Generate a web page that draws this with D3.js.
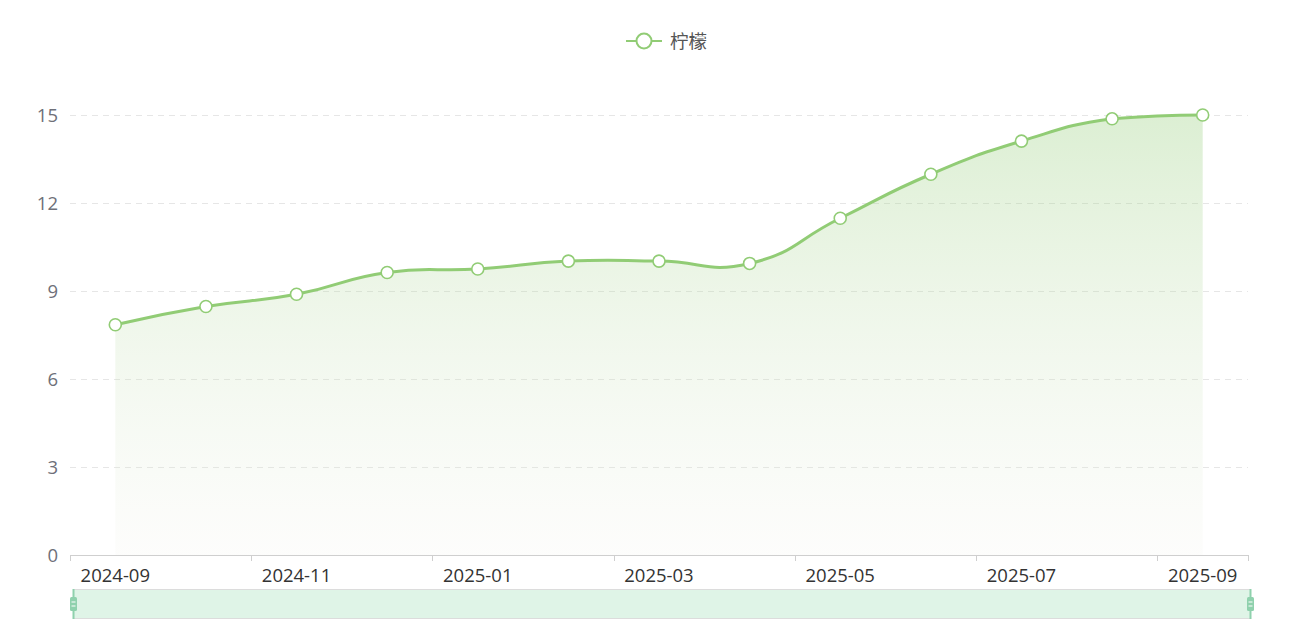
<!DOCTYPE html>
<html>
<head>
<meta charset="utf-8">
<script src="https://cdn.jsdelivr.net/npm/d3@7/dist/d3.min.js"></script>
<style>
html,body{margin:0;padding:0;background:#fff;}
svg{display:block;font-family:"Open Sans","Noto Sans CJK SC",sans-serif;}
</style>
</head>
<body>
<svg id="chart" width="1302" height="630"></svg>
<script>
const seriesName = "柠檬";
const categories = ["2024-09","2024-10","2024-11","2024-12","2025-01","2025-02","2025-03","2025-04","2025-05","2025-06","2025-07","2025-08","2025-09"];
const values = [7.85, 8.47, 8.89, 9.63, 9.75, 10.02, 10.02, 9.94, 11.48, 12.98, 14.11, 14.87, 15.0];
const yTicks = [0, 3, 6, 9, 12, 15];
const xLabelIdx = [0, 2, 4, 6, 8, 10, 12];

(function () {
const svg = d3.select("#chart");
const gLeft = 70, gRight = 1248, gTop = 115, gBottom = 555;
const green = "#91cc75";

const x = d3.scaleBand().domain(categories).range([gLeft, gRight]).paddingInner(0).paddingOuter(0);
const y = d3.scaleLinear().domain([0, 15]).range([gBottom, gTop]);

const defs = svg.append("defs");
const grad = defs.append("linearGradient").attr("id","areaGrad").attr("x1",0).attr("y1",0).attr("x2",0).attr("y2",1);
grad.append("stop").attr("offset","0%").attr("stop-color","rgb(145,204,117)").attr("stop-opacity",0.32);
grad.append("stop").attr("offset","100%").attr("stop-color","rgb(240,240,232)").attr("stop-opacity",0.15);

svg.append("g").selectAll("line").data(yTicks.filter(t => t > 0)).join("line")
  .attr("x1", gLeft).attr("x2", gRight)
  .attr("y1", d => Math.round(y(d)) + 0.5).attr("y2", d => Math.round(y(d)) + 0.5)
  .attr("stroke", "#e6e6e6").attr("stroke-width", 1).attr("stroke-dasharray", "6,5");

svg.append("g").selectAll("text").data(yTicks).join("text")
  .attr("x", 58).attr("y", d => y(d)).attr("dy", "0.36em")
  .attr("text-anchor", "end").attr("fill", "#6e7079").attr("font-size", 18.5)
  .text(d => d);

const pts = categories.map((c, i) => [x(c) + x.bandwidth() / 2, y(values[i])]);

// ECharts v4-style smooth bezier with bbox constraint
function smoothPath(points, smooth, p) {
  const n = points.length;
  const minX = d3.min(points, d => d[0]), maxX = d3.max(points, d => d[0]);
  const minY = d3.min(points, d => d[1]), maxY = d3.max(points, d => d[1]);
  const clampX = v => Math.max(minX, Math.min(maxX, v));
  const clampY = v => Math.max(minY, Math.min(maxY, v));
  const cps = [];
  for (let i = 0; i < n; i++) {
    const pt = points[i];
    if (i === 0 || i === n - 1) { cps.push([pt[0], pt[1]]); continue; }
    const pr = points[i - 1], nx = points[i + 1];
    const vx = (nx[0] - pr[0]) * smooth, vy = (nx[1] - pr[1]) * smooth;
    let d0 = Math.hypot(pt[0] - pr[0], pt[1] - pr[1]);
    let d1 = Math.hypot(pt[0] - nx[0], pt[1] - nx[1]);
    const s = d0 + d1;
    if (s !== 0) { d0 /= s; d1 /= s; }
    cps.push([clampX(pt[0] - vx * d0), clampY(pt[1] - vy * d0)]);
    cps.push([clampX(pt[0] + vx * d1), clampY(pt[1] + vy * d1)]);
  }
  p.moveTo(points[0][0], points[0][1]);
  for (let i = 0; i < n - 1; i++) {
    const c0 = cps[i * 2], c1 = cps[i * 2 + 1], q = points[i + 1];
    p.bezierCurveTo(c0[0], c0[1], c1[0], c1[1], q[0], q[1]);
  }
  return p;
}

const areaP = smoothPath(pts, 0.5, d3.path());
areaP.lineTo(pts[pts.length-1][0], y(0));
areaP.lineTo(pts[0][0], y(0));
areaP.closePath();
svg.append("path").attr("d", areaP.toString()).attr("fill", "url(#areaGrad)");

svg.append("line").attr("x1", gLeft).attr("x2", gRight).attr("y1", gBottom + 0.5).attr("y2", gBottom + 0.5)
  .attr("stroke", "#cfcfcf").attr("stroke-width", 1);
const tickPos = xLabelIdx.map(i => x(categories[i])).concat([gRight]);
svg.append("g").selectAll("line").data(tickPos).join("line")
  .attr("x1", d => Math.round(d) + 0.5).attr("x2", d => Math.round(d) + 0.5)
  .attr("y1", gBottom).attr("y2", gBottom + 6)
  .attr("stroke", "#cfcfcf").attr("stroke-width", 1);
svg.append("g").selectAll("text").data(xLabelIdx).join("text")
  .attr("x", i => x(categories[i]) + x.bandwidth() / 2).attr("y", 582)
  .attr("text-anchor", "middle").attr("fill", "#333").attr("font-size", 18.5)
  .text(i => categories[i]);

const lineP = smoothPath(pts, 0.5, d3.path());
svg.append("path").attr("d", lineP.toString()).attr("fill", "none")
  .attr("stroke", green).attr("stroke-width", 3).attr("stroke-linejoin", "round");

svg.append("g").selectAll("circle").data(pts).join("circle")
  .attr("cx", d => d[0]).attr("cy", d => d[1]).attr("r", 6)
  .attr("fill", "#fff").attr("stroke", green).attr("stroke-width", 1.6);

const lg = svg.append("g");
lg.append("line").attr("x1", 626).attr("x2", 662).attr("y1", 41).attr("y2", 41)
  .attr("stroke", green).attr("stroke-width", 2);
lg.append("circle").attr("cx", 644).attr("cy", 41).attr("r", 7.5)
  .attr("fill", "#fff").attr("stroke", green).attr("stroke-width", 2);
lg.append("text").attr("x", 670).attr("y", 41).attr("dy", "0.36em")
  .attr("font-family", "Noto Sans CJK SC")
  .attr("fill", "#555").attr("font-size", 18.5).text(seriesName);

const sz = svg.append("g");
sz.append("rect").attr("x", 73.5).attr("y", 589.5).attr("width", 1177).attr("height", 29)
  .attr("fill", "#dff4e7").attr("stroke", "#dcdcdc").attr("stroke-width", 1);
[73.5, 1250.5].forEach(hx => {
  sz.append("line").attr("x1", hx).attr("x2", hx).attr("y1", 589).attr("y2", 619)
    .attr("stroke", "#8fd1ad").attr("stroke-width", 2);
  sz.append("rect").attr("x", hx - 3.5).attr("y", 597).attr("width", 7).attr("height", 14).attr("rx", 1.5)
    .attr("fill", "#8fd1ad");
  sz.append("line").attr("x1", hx - 2).attr("x2", hx + 2).attr("y1", 602).attr("y2", 602).attr("stroke", "#fff").attr("stroke-width", 1);
  sz.append("line").attr("x1", hx - 2).attr("x2", hx + 2).attr("y1", 606).attr("y2", 606).attr("stroke", "#fff").attr("stroke-width", 1);
});
})();
</script>
</body>
</html>
